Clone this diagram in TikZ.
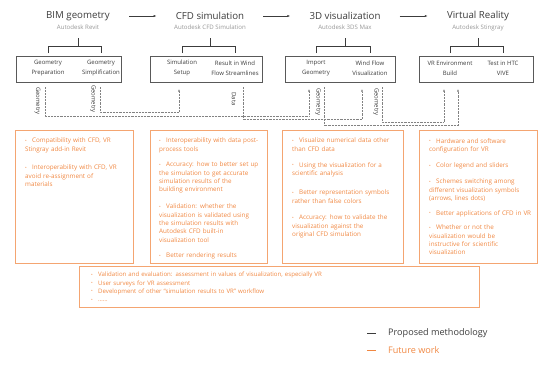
\documentclass[tikz,border=0pt]{standalone}
\usepackage{fontspec}
\setmainfont{Open Sans}
\usetikzlibrary{arrows.meta}
\definecolor{dk}{RGB}{60,60,60}
\definecolor{subc}{RGB}{150,150,150}
\definecolor{org}{RGB}{240,135,65}
\definecolor{dotc}{RGB}{130,130,130}
\newcommand\bulmark{\raisebox{0.6pt}{\fontsize{4.5}{4}\selectfont\textbullet}}
\newcommand\bitem[1]{\hangindent=7pt\hangafter=1\noindent\makebox[7pt][l]{\bulmark}#1\par}
\begin{document}
\begin{tikzpicture}[x=1pt,y=-1pt,
  title/.style={font=\fontsize{9.7}{11}\selectfont, text=dk, inner sep=0},
  subt/.style={font=\fontsize{6.1}{7}\selectfont, text=subc, inner sep=0},
  tbox/.style={draw=dk!85, line width=0.6pt, minimum height=26pt, inner sep=0},
  btext/.style={font=\fontsize{6}{10}\selectfont, text=dk, align=center, inner sep=0},
  bline/.style={draw=dk, line width=0.6pt},
  tarrow/.style={bline, -{Latex[length=3pt,width=2.2pt]}, shorten <=19pt, shorten >=19pt},
  flow/.style={draw=dotc, densely dotted, line width=0.45pt},
  flowin/.style={flow, -{Latex[length=2.5pt,width=2pt]}},
  lbl/.style={font=\fontsize{6}{7}\selectfont, text=dk, rotate=-90, inner sep=0},
  obox/.style={draw=org!75, line width=0.6pt, inner sep=0},
  fitem/.style={font=\fontsize{6.3}{8.3}\selectfont, text=org, anchor=north west, inner sep=0, text width=130pt, align=left},
  legtext/.style={font=\fontsize{9.1}{10}\selectfont, anchor=west, inner sep=0}
]
\useasboundingbox (0,0) rectangle (550,367);

% ---- titles
\node[title] (t1) at (78,16) {BIM geometry};
\node[title] (t2) at (210,16) {CFD simulation};
\node[title] (t3) at (345,16) {3D visualization};
\node[title] (t4) at (478,16) {Virtual Reality};
\node[subt] (s1) at (78,27.5) {Autodesk Revit};
\node[subt] (s2) at (210,27.5) {Autodesk CFD Simulation};
\node[subt] (s3) at (345,27.5) {Autodesk 3DS Max};
\node[subt] (s4) at (478,27.5) {Autodesk Stingray};
\draw[tarrow] (t1) -- (t2);
\draw[tarrow] (t2) -- (t3);
\draw[tarrow] (t3) -- (t4);

% ---- tool boxes
\node[tbox, minimum width=105pt] (bim) at (68.5,69) {};
\node[tbox, minimum width=112pt] (cfd) at (206,69) {};
\node[tbox, minimum width=110pt] (viz) at (340,69) {};
\node[tbox, minimum width=114pt] (vr) at (476,69) {};
\node[btext] (bim1) at (48,68) {Geometry\\Preparation};
\node[btext] (bim2) at (101,68) {Geometry\\Simplification};
\node[btext] (cfd1) at (182,68) {Simulation\\Setup};
\node[btext] (cfd2) at (235,68) {Result in Wind\\Flow Streamlines};
\node[btext] (viz1) at (316,68) {Import\\Geometry};
\node[btext] (viz2) at (370,68) {Wind Flow\\Visualization};
\node[btext] (vr1) at (450,68) {VR Environment\\Build};
\node[btext] (vr2) at (503,68) {Test in HTC\\VIVE};

% ---- brackets
\draw[bline] (s1 |- 0,38) -- (s1 |- 0,46) (bim1 |- 0,53) -- (bim1 |- 0,46) -- (bim2 |- 0,46) -- (bim2 |- 0,53);
\draw[bline] (s2 |- 0,38) -- (s2 |- 0,46) (cfd1 |- 0,53) -- (cfd1 |- 0,46) -- (cfd2 |- 0,46) -- (cfd2 |- 0,53);
\draw[bline] (s3 |- 0,38) -- (s3 |- 0,46) (viz1 |- 0,53) -- (viz1 |- 0,46) -- (viz2 |- 0,46) -- (viz2 |- 0,53);
\draw[bline] (s4 |- 0,38) -- (s4 |- 0,46) (vr1 |- 0,53) -- (vr1 |- 0,46) -- (vr2 |- 0,46) -- (vr2 |- 0,53);

% ---- data flow ports
\coordinate (oA) at (45,87);
\coordinate (oB) at (100,87);
\coordinate (iB) at (179,89);
\coordinate (oD) at (243,87);
\coordinate (iA) at (309,89);
\coordinate (oG1) at (324,87);
\coordinate (iD) at (362,89);
\coordinate (oG2) at (382,87);
\coordinate (iG2) at (444,89);
\coordinate (iG1) at (458,89);

\draw[flowin] (oB) -- (oB |- 0,112) -| (iB);
\draw[flowin] (oA) -- (oA |- 0,116) -| (iA);
\draw[flowin] (oD) -- (oD |- 0,119.5) -| (iD);
\draw[flowin] (oG2) -- (oG2 |- 0,122) -| (iG2);
\draw[flowin] (oG1) -- (oG1 |- 0,125.5) -| (iG1);

\node[lbl] (lA) at (37.5,101) {Geometry};
\node[lbl] (lB) at (93,99) {Geometry};
\node[lbl] (lD) at (234,99) {Data};
\node[lbl] (lG1) at (318,102) {Geometry};
\node[lbl] (lG2) at (376,102) {Geometry};

% ---- future work boxes
\node[obox, minimum width=118pt, minimum height=133pt] (f1) at (74,196.5) {};
\node[obox, minimum width=117pt, minimum height=133pt] (f2) at (208.5,196.5) {};
\node[obox, minimum width=121pt, minimum height=133pt] (f3) at (342.5,196.5) {};
\node[obox, minimum width=118pt, minimum height=133pt] (f4) at (478,196.5) {};
\node[obox, minimum width=400pt, minimum height=41pt] (f5) at (279,286.5) {};

\node[fitem] (f1a) at (25,138) {\bitem{Compatibility with CFD, VR\\Stingray add-in Revit}};
\node[fitem] (f1b) at (25,165) {\bitem{Interoperability with CFD, VR\\avoid re-assignment of\\materials}};

\node[fitem] (f2a) at (159,138) {\bitem{Interoperability with data post-\\process tools}};
\node[fitem] (f2b) at (159,162) {\bitem{Accuracy: how to better set up\\the simulation to get accurate\\simulation results of the\\building environment}};
\node[fitem] (f2c) at (159,204) {\bitem{Validation: whether the\\visualization is validated using\\the simulation results with\\Autodesk CFD built-in\\visualization tool}};
\node[fitem] (f2d) at (159,253) {\bitem{Better rendering results}};

\node[fitem] (f3a) at (292,138) {\bitem{Visualize numerical data other\\than CFD data}};
\node[fitem] (f3b) at (292,162) {\bitem{Using the visualization for a\\scientific analysis}};
\node[fitem] (f3c) at (292,190) {\bitem{Better representation symbols\\rather than false colors}};
\node[fitem] (f3d) at (292,215) {\bitem{Accuracy: how to validate the\\visualization against the\\original CFD simulation}};

\node[fitem] (f4a) at (429,138) {\bitem{Hardware and software\\configuration for VR}};
\node[fitem] (f4b) at (429,163) {\bitem{Color legend and sliders}};
\node[fitem] (f4c) at (429,179) {\bitem{Schemes switching among\\different visualization symbols\\(arrows, lines dots)}};
\node[fitem] (f4d) at (429,210) {\bitem{Better applications of CFD in VR}};
\node[fitem] (f4e) at (429,225) {\bitem{Whether or not the\\visualization would be\\instructive for scientific\\visualization}};

\node[fitem, font=\fontsize{6.1}{8.3}\selectfont, text width=380pt] (f5a) at (91,272) {\bitem{Validation and evaluation: assessment in values of visualization, especially VR}\bitem{User surveys for VR assessment}\bitem{Development of other “simulation results to VR” workflow}\bitem{……}};

% ---- legend
\draw[bline] (367,333) -- (376,333);
\draw[draw=org, line width=0.6pt] (367,350) -- (376,350);
\node[legtext, text=dk] (lg1) at (388,333) {Proposed methodology};
\node[legtext, text=org] (lg2) at (388,350) {Future work};
\end{tikzpicture}
\end{document}
